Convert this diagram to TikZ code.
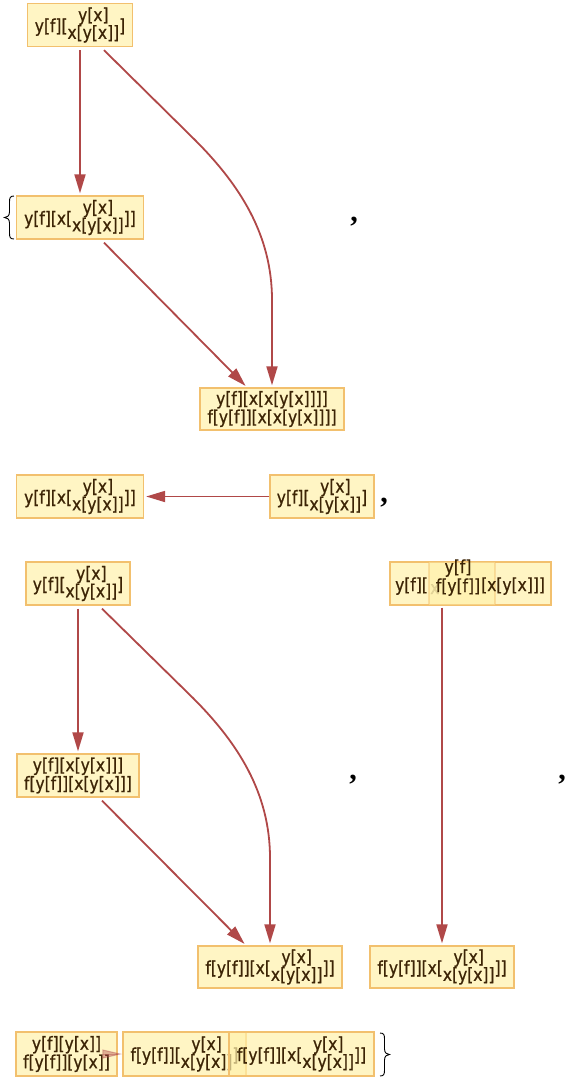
\documentclass[tikz,border=0pt]{standalone}
\usepackage{fontspec}
\setmainfont{DejaVu Sans}[FakeStretch=0.86,RawFeature={embolden=0.8}]
\newfontfamily\commafont{Liberation Serif}
\usetikzlibrary{arrows.meta}
\definecolor{boxfill}{RGB}{255,241,172}
\definecolor{boxdraw}{RGB}{242,192,110}
\definecolor{txt}{RGB}{60,36,5}
\definecolor{edgec}{RGB}{176,72,72}
\pgfdeclarelayer{bg}
\pgfsetlayers{bg,main}
\newcommand\stk[2]{\lower6.7pt\vbox{\baselineskip=17.7pt\halign{\hfil##\hfil\cr#1\cr#2\cr}}}
\begin{document}
\begin{tikzpicture}[x=1pt,y=-1pt,
  lbl/.style={draw=boxdraw,line width=1.3pt,fill=boxfill,fill opacity=0.7,text opacity=1,
    text=txt,inner sep=0pt,minimum height=43pt,font=\fontsize{18pt}{18.5pt}\selectfont},
  twoline/.style={lbl,align=center},
  txtn/.style={inner sep=0pt,text=txt,font=\fontsize{18pt}{18.5pt}\selectfont},
  conn/.style={draw=edgec,line width=1.8pt,-{Triangle[length=19pt,width=11pt]},shorten >=2pt},
  commanode/.style={inner sep=0pt,text=black,anchor=base,font=\commafont\fontsize{30pt}{30pt}\selectfont\bfseries},
  bracepath/.style={draw=black,line width=0.9pt}]
\fill[white] (0,0) rectangle (570,1080);
\useasboundingbox (0,0) rectangle (570,1080);

% group 1
\node[lbl,minimum width=105pt] (A) at (80,25) {y[f][\stk{y[x]}{x[y[x]]}]};
\node[lbl,minimum width=127pt] (B) at (80,217.5) {y[f][x[\stk{y[x]}{x[y[x]]}]]};
\node[twoline,minimum width=144pt,minimum height=42pt] (C) at (272,409) {y[f][x[x[y[x]]]]\\f[y[f]][x[x[y[x]]]]};
\draw[conn,shorten <=3pt] (A) -- (B);
\draw[conn] ([xshift=24pt,yshift=-3pt]A.south) -- (195,140) .. controls (240,185) and (272,235) .. (272,300) -- (C.north);
\draw[conn] ([xshift=24pt,yshift=-3pt]B.south) -- ([xshift=-25pt]C.north);
\draw[bracepath] (14,196) .. controls (10,196) and (9.5,198) .. (9.5,202) -- (9.5,212) .. controls (9.5,216) and (7,217.5) .. (4.5,217.5) .. controls (7,217.5) and (9.5,219) .. (9.5,223) -- (9.5,233) .. controls (9.5,237) and (10,239) .. (14,239);
\node[commanode] (c1) at (354,221) {,};

% group 2
\node[lbl,minimum width=127pt] (D) at (80,496.5) {y[f][x[\stk{y[x]}{x[y[x]]}]]};
\node[lbl,minimum width=104pt] (E) at (322,496.5) {y[f][\stk{y[x]}{x[y[x]]}]};
\draw[conn] (E) -- (D);
\node[commanode] (c2) at (384,502) {,};

% group 3
\node[lbl,minimum width=104pt] (F) at (78,583.5) {y[f][\stk{y[x]}{x[y[x]]}]};
\node[twoline,minimum width=122pt] (G) at (78,775.5) {y[f][x[y[x]]]\\f[y[f]][x[y[x]]]};
\node[lbl,minimum width=144pt,minimum height=42pt] (H) at (270,967) {f[y[f]][x[\stk{y[x]}{x[y[x]]}]]};
\draw[conn,shorten <=3pt] (F) -- (G);
\draw[conn] ([xshift=24pt,yshift=-3pt]F.south) -- (193,698) .. controls (238,743) and (270,793) .. (270,858) -- (H.north);
\draw[conn] ([xshift=24pt,yshift=-3pt]G.south) -- ([xshift=-24pt]H.north);
\node[commanode] (c3) at (353,779) {,};

\node[lbl,minimum width=161pt] (J) at (470.5,583.5) {};
\node[txtn,anchor=base west] (J1) at (395,591) {y[f][};
\node[txtn,anchor=base west,opacity=0.45] (Jx) at (430,594) {x};
\node[lbl,minimum width=66pt,draw opacity=0.45] (J2) at (462,583.5) {};
\node[txtn,anchor=base] (J3) at (458,573) {y[f]};
\node[txtn,anchor=base] (J4) at (458,592) {f[y[f]]};
\node[txtn,anchor=base west] (J5) at (481,591) {[x[y[x]]]};
\node[lbl,minimum width=144pt,minimum height=42pt] (I) at (442,967) {f[y[f]][x[\stk{y[x]}{x[y[x]]}]]};
\draw[conn,shorten <=2pt] (I |- J.south) -- (I.north);
\node[commanode] (c4) at (562,779) {,};

% group 4
\node[twoline,minimum width=101pt,minimum height=44pt] (K) at (66.5,1054) {y[f][y[x]]\\f[y[f]][y[x]]};
\begin{pgfonlayer}{bg}
\end{pgfonlayer}
\node[lbl,minimum width=123pt,minimum height=44pt] (L) at (184.5,1054) {f[y[f]][\stk{y[x]}{x[y[x]]}]};
\node[lbl,minimum width=145pt,minimum height=44pt] (M) at (301.5,1054) {f[y[f]][x[\stk{y[x]}{x[y[x]]}]]};
\draw[draw=edgec,line width=1pt,opacity=0.4,-{Triangle[length=20pt,width=9pt]}] (K) -- (L);
\draw[bracepath] (380,1033) .. controls (384,1033) and (384.5,1035) .. (384.5,1039) -- (384.5,1049) .. controls (384.5,1053) and (387,1054.5) .. (389.5,1054.5) .. controls (387,1054.5) and (384.5,1056) .. (384.5,1060) -- (384.5,1070) .. controls (384.5,1074) and (384,1076) .. (380,1076);
\end{tikzpicture}
\end{document}
